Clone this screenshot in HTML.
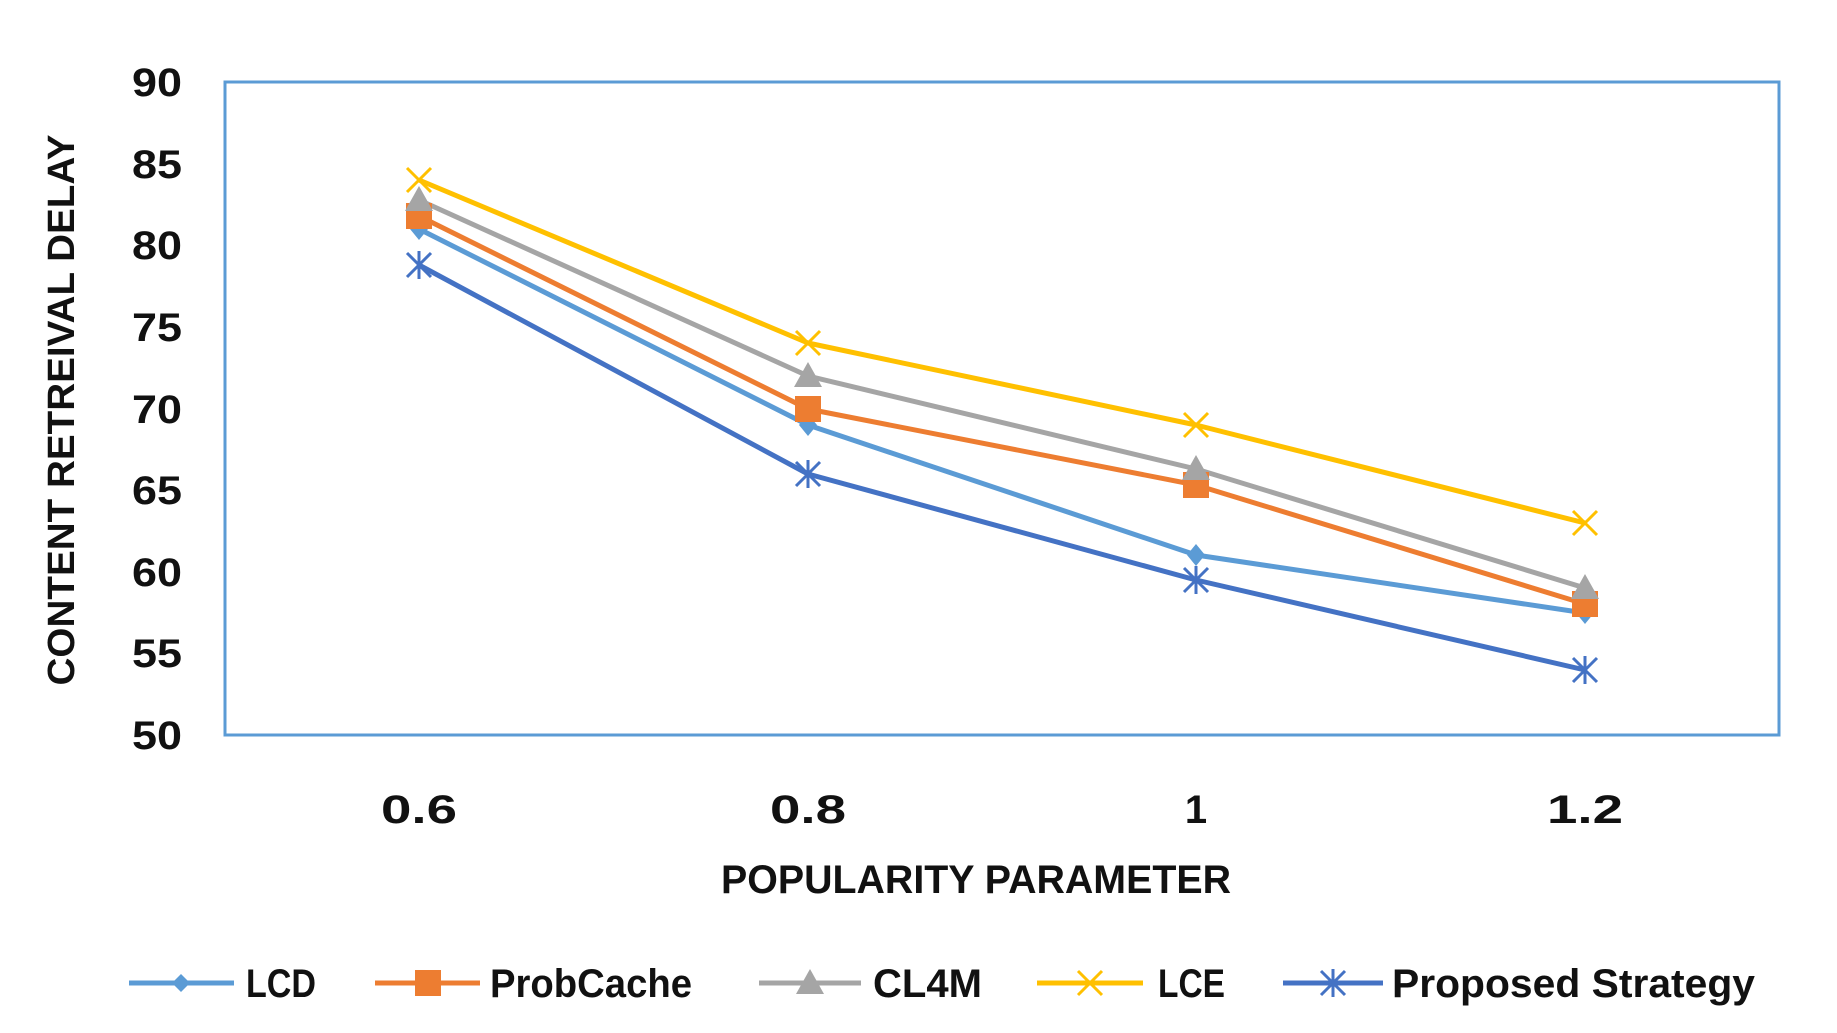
<!DOCTYPE html>
<html><head><meta charset="utf-8"><style>
html,body{margin:0;padding:0;background:#fff;}
svg{display:block;}
text{font-family:"Liberation Sans",sans-serif;fill:#111;font-weight:bold;}
</style></head><body>
<svg width="1837" height="1033" viewBox="0 0 1837 1033" xmlns="http://www.w3.org/2000/svg">
<rect x="225" y="82" width="1554" height="653" fill="none" stroke="#5b9bd5" stroke-width="3"/>
<g font-size="40" text-anchor="end">
<text x="182" y="96" textLength="50" lengthAdjust="spacingAndGlyphs">90</text>
<text x="182" y="178" textLength="50" lengthAdjust="spacingAndGlyphs">85</text>
<text x="182" y="259" textLength="50" lengthAdjust="spacingAndGlyphs">80</text>
<text x="182" y="341" textLength="50" lengthAdjust="spacingAndGlyphs">75</text>
<text x="182" y="423" textLength="50" lengthAdjust="spacingAndGlyphs">70</text>
<text x="182" y="504" textLength="50" lengthAdjust="spacingAndGlyphs">65</text>
<text x="182" y="586" textLength="50" lengthAdjust="spacingAndGlyphs">60</text>
<text x="182" y="667" textLength="50" lengthAdjust="spacingAndGlyphs">55</text>
<text x="182" y="749" textLength="50" lengthAdjust="spacingAndGlyphs">50</text>
</g>
<g font-size="40" text-anchor="middle">
<text x="419" y="823" textLength="76" lengthAdjust="spacingAndGlyphs">0.6</text>
<text x="808" y="823" textLength="76" lengthAdjust="spacingAndGlyphs">0.8</text>
<text x="1196" y="823">1</text>
<text x="1585" y="823" textLength="76" lengthAdjust="spacingAndGlyphs">1.2</text>
</g>
<text x="976" y="893" font-size="40" text-anchor="middle" textLength="510" lengthAdjust="spacingAndGlyphs">POPULARITY PARAMETER</text>
<text transform="translate(74,410) rotate(-90)" font-size="38" text-anchor="middle" textLength="551" lengthAdjust="spacingAndGlyphs">CONTENT RETREIVAL DELAY</text>
<g fill="none" stroke-width="5" stroke-linejoin="round">
<polyline stroke="#5b9bd5" points="419,229 808,425 1196,555 1585,613"/>
<polyline stroke="#ed7d31" points="419,216 808,409 1196,485 1585,604"/>
<polyline stroke="#a5a5a5" points="419,200 808,376 1196,469 1585,588"/>
<polyline stroke="#ffc000" points="419,180 808,343 1196,425 1585,523"/>
<polyline stroke="#4472c4" points="419,265 808,474 1196,580 1585,670"/>
</g>
<g fill="#5b9bd5"><path d="M419,218l9,11-9,11-9-11z"/><path d="M808,414l9,11-9,11-9-11z"/><path d="M1196,544l9,11-9,11-9-11z"/><path d="M1585,602l9,11-9,11-9-11z"/></g>
<g fill="#ed7d31"><rect x="406" y="203" width="26" height="26"/><rect x="795" y="396" width="26" height="26"/><rect x="1183" y="472" width="26" height="26"/><rect x="1572" y="591" width="26" height="26"/></g>
<g fill="#a5a5a5"><path d="M419,186l14,25h-28z"/><path d="M808,362l14,25h-28z"/><path d="M1196,455l14,25h-28z"/><path d="M1585,574l14,25h-28z"/></g>
<g stroke="#ffc000" stroke-width="3"><path d="M407,168l24,24M431,168l-24,24"/><path d="M796,331l24,24M820,331l-24,24"/><path d="M1184,413l24,24M1208,413l-24,24"/><path d="M1573,511l24,24M1597,511l-24,24"/></g>
<g stroke="#4472c4" stroke-width="3"><path d="M407,253l24,24M431,253l-24,24M419,251v28"/><path d="M796,462l24,24M820,462l-24,24M808,460v28"/><path d="M1184,568l24,24M1208,568l-24,24M1196,566v28"/><path d="M1573,658l24,24M1597,658l-24,24M1585,656v28"/></g>
<g stroke-width="5">
<line x1="129" y1="983" x2="234" y2="983" stroke="#5b9bd5"/>
<line x1="375" y1="983" x2="480" y2="983" stroke="#ed7d31"/>
<line x1="759" y1="983" x2="861" y2="983" stroke="#a5a5a5"/>
<line x1="1037" y1="983" x2="1143" y2="983" stroke="#ffc000"/>
<line x1="1283" y1="983" x2="1383" y2="983" stroke="#4472c4"/>
</g>
<path d="M181,974l9,9-9,9-9-9z" fill="#5b9bd5"/>
<rect x="415" y="970" width="26" height="26" fill="#ed7d31"/>
<path d="M810,969l14,25h-28z" fill="#a5a5a5"/>
<path d="M1078,971l24,24M1102,971l-24,24" stroke="#ffc000" stroke-width="3"/>
<path d="M1321,971l24,24M1345,971l-24,24M1333,969v28" stroke="#4472c4" stroke-width="3"/>
<g font-size="40">
<text x="246" y="997" textLength="70" lengthAdjust="spacingAndGlyphs">LCD</text>
<text x="490" y="997" textLength="202" lengthAdjust="spacingAndGlyphs">ProbCache</text>
<text x="873" y="997" textLength="109" lengthAdjust="spacingAndGlyphs">CL4M</text>
<text x="1158" y="997" textLength="67" lengthAdjust="spacingAndGlyphs">LCE</text>
<text x="1392" y="997" textLength="363" lengthAdjust="spacingAndGlyphs">Proposed Strategy</text>
</g>
</svg>
</body></html>
